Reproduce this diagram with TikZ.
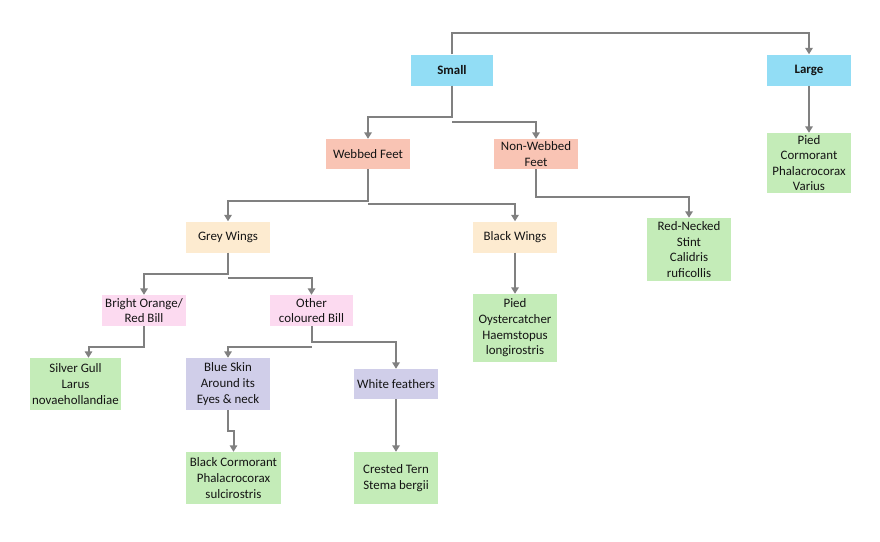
\documentclass[tikz,border=0pt]{standalone}
\usepackage{fontspec}
\setmainfont{Carlito}
\usetikzlibrary{arrows.meta}
\definecolor{cblue}{RGB}{146,221,245}
\definecolor{csalmon}{RGB}{249,196,180}
\definecolor{ccream}{RGB}{253,235,208}
\definecolor{cpink}{RGB}{252,218,240}
\definecolor{clav}{RGB}{208,206,233}
\definecolor{cgreen}{RGB}{196,236,184}
\definecolor{cline}{RGB}{128,128,128}
\definecolor{ctext}{RGB}{20,20,20}
\begin{document}
\begin{tikzpicture}[x=1pt,y=-1pt,
  box/.style={minimum width=84pt, minimum height=31pt, inner sep=1pt, align=center,
    font=\fontsize{12.9}{15.6}\selectfont, text=ctext},
  conn/.style={draw=cline, line width=2pt, -{Triangle[width=7.5pt,length=6.5pt]}}]
\useasboundingbox (0,0) rectangle (880,541);
\node[box, fill=cblue, minimum width=82pt, font=\fontsize{12.9}{15.6}\selectfont\bfseries] (small) at (452,70) {Small};
\node[box, fill=cblue, font=\fontsize{12.9}{15.6}\selectfont\bfseries] (large) at (809,70) {Large};
\node[box, fill=cgreen, minimum height=60pt] (pc) at (809,163) {Pied\\Cormorant\\Phalacrocorax\\Varius};
\node[box, fill=csalmon, minimum height=30pt] (wf) at (368,154) {Webbed Feet};
\node[box, fill=csalmon, minimum height=30pt] (nwf) at (536,154) {Non-Webbed\\Feet};
\node[box, fill=ccream] (gw) at (228,237) {Grey Wings};
\node[box, fill=ccream] (bw) at (515,237) {Black Wings};
\node[box, fill=cgreen, minimum height=63pt] (rn) at (689,249.5) {Red-Necked\\Stint\\Calidris\\ruficollis};
\node[box, fill=cpink] (bo) at (144,310.5) {Bright Orange/\\Red Bill};
\node[box, fill=cpink, minimum width=83pt] (ocb) at (311.5,310.5) {Other\\coloured Bill};
\node[box, fill=cgreen, minimum height=68pt] (po) at (515,328) {Pied\\Oystercatcher\\Haemstopus\\longirostris};
\node[box, fill=cgreen, minimum width=91pt, minimum height=52pt] (sg) at (75.5,384) {Silver Gull\\Larus\\novaehollandiae};
\node[box, fill=clav, minimum height=52pt] (bs) at (228,384) {Blue Skin\\Around its\\Eyes \& neck};
\node[box, fill=clav, minimum height=30pt] (wh) at (396,384) {White feathers};
\node[box, fill=cgreen, minimum width=95pt, minimum height=52pt] (bc) at (233.5,478) {Black Cormorant\\Phalacrocorax\\sulcirostris};
\node[box, fill=cgreen, minimum height=52pt] (ct) at (396,478) {Crested Tern\\Stema bergii};

\draw[conn] (small.north) -- ++(0,-21) -| (large.north);
\draw[conn] (small.south) -- ++(0,31) -| (wf.north);
\draw[conn] ([yshift=-36pt]small.south) -| (nwf.north);
\draw[conn] (large.south) -- (pc.north);
\draw[conn] (wf.south) -- ++(0,32) -| (gw.north);
\draw[conn] ([yshift=-35pt]wf.south) -| (bw.north);
\draw[conn] (nwf.south) -- ++(0,28) -| (rn.north);
\draw[conn] (gw.south) -- ++(0,21) -| (bo.north);
\draw[conn] ([yshift=-25pt]gw.south) -| (ocb.north);
\draw[conn] (bw.south) -- (po.north);
\draw[conn] (bo.south) -- ++(0,21) -| ([xshift=13pt]sg.north);
\draw[conn] (ocb.south) -- ++(0,16) -| (wh.north);
\draw[conn] ([yshift=-21pt]ocb.south) -| (bs.north);
\draw[conn] (bs.south) -- ++(0,21) -| (bc.north);
\draw[conn] (wh.south) -- (ct.north);
\end{tikzpicture}
\end{document}
